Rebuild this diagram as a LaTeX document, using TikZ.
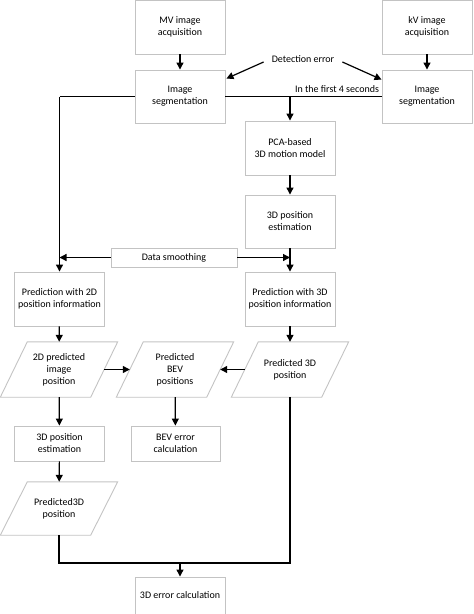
\documentclass[tikz,border=0pt]{standalone}
\usepackage{fontspec}
\setmainfont{Carlito}
\usetikzlibrary{arrows.meta,calc}
\definecolor{boxgray}{RGB}{195,195,195}
\begin{document}
\begin{tikzpicture}[x=1pt,y=-1pt,
  every node/.style={font=\fontsize{10}{12}\selectfont,inner sep=0pt,align=center},
  procbox/.style={draw=boxgray,line width=0.9pt,rectangle,minimum width=90pt,minimum height=53pt},
  parabox/.style={rectangle,minimum width=90pt,minimum height=55pt},
  arr/.style={line width=1.2pt,-{Triangle[length=7pt,width=7pt]}},
  ln/.style={line width=1.2pt}]
\useasboundingbox (0,0) rectangle (474,614);

\node[procbox,minimum height=54pt] (mv) at (180,27) {MV image\\acquisition};
\node[procbox,minimum height=54pt] (kv) at (427,27) {kV image\\acquisition};
\node[procbox] (segL) at (180,96.5) {Image\\segmentation};
\node[procbox] (segR) at (427,96.5) {Image\\segmentation};
\node (det) at (303,59) {Detection error};
\node (first) at (337,89) {In the first 4 seconds};
\node[procbox,minimum height=54pt] (pca) at (290,148) {PCA-based\\3D motion model};
\node[procbox] (est3) at (290,221.5) {3D position\\estimation};
\node[procbox,minimum width=126pt,minimum height=19pt] (smooth) at (174,257.5) {Data smoothing};
\node[procbox,minimum height=54pt] (pred2) at (59.5,299) {Prediction with 2D\\position information};
\node[procbox,minimum height=54pt] (pred3) at (290,299) {Prediction with 3D\\position information};
\node[parabox] (p2d) at (59,369.5) {2D predicted\\image\\position};
\node[parabox] (pbev) at (175,369.5) {Predicted\\BEV\\positions};
\node[parabox] (p3d) at (290,369.5) {Predicted 3D\\position};
\node[procbox,minimum height=35pt] (est2) at (59.5,443.5) {3D position\\estimation};
\node[procbox,minimum width=89pt,minimum height=35pt] (beverr) at (175.5,443.5) {BEV error\\calculation};
\node[parabox,minimum height=53pt] (pp3) at (59,508.5) {Predicted3D\\position};
\node[procbox,minimum height=37pt] (err) at (180,595.5) {3D error calculation};

\foreach \n in {p2d,pbev,p3d,pp3}{
  \draw[boxgray,line width=0.9pt] ($(\n.south west)+(-13.5,0)$) -- ($(\n.south east)+(-13.5,0)$)
    -- ($(\n.north east)+(13.5,0)$) -- ($(\n.north west)+(13.5,0)$) -- cycle;
}

\coordinate (jL) at (59.5,96.5);
\coordinate (jM) at (290,96.5);
\coordinate (sL) at (59.5,257.5);
\coordinate (sR) at (290,257.5);
\coordinate (bL) at (59,563);
\coordinate (bM) at (180,563);
\coordinate (bR) at (290,563);

\draw[arr] (mv) -- (segL);
\draw[arr] (kv) -- (segR);
\draw[arr] ($(det.west)+(-8,3)$) -- ($(segL.north east)+(1,9)$);
\draw[arr] ($(det.east)+(8,3)$) -- ($(segR.north west)+(0,10)$);
\draw[ln] (segL.east) -- (segR.west);
\draw[arr] (jM) -- (pca);
\draw[ln] (segL.west) -- (jL);
\draw[arr] (jL) -- (pred2);
\draw[arr] (pca) -- (est3);
\draw[arr] (est3) -- (pred3);
\draw[arr] (smooth.west) -- (sL);
\draw[arr] (smooth.east) -- (sR);
\draw[arr] (pred2) -- (p2d);
\draw[arr] (pred3) -- (p3d);
\draw[arr] (p2d.east) -- (pbev.west);
\draw[arr] (p3d.west) -- (pbev.east);
\draw[arr] (p2d) -- (est2);
\draw[arr] (pbev) -- (beverr);
\draw[arr] (est2) -- (pp3);
\draw[ln] (pp3.south) -- (bL) -- (bR) -- (p3d.south);
\draw[arr] (bM) -- (err);
\end{tikzpicture}
\end{document}
